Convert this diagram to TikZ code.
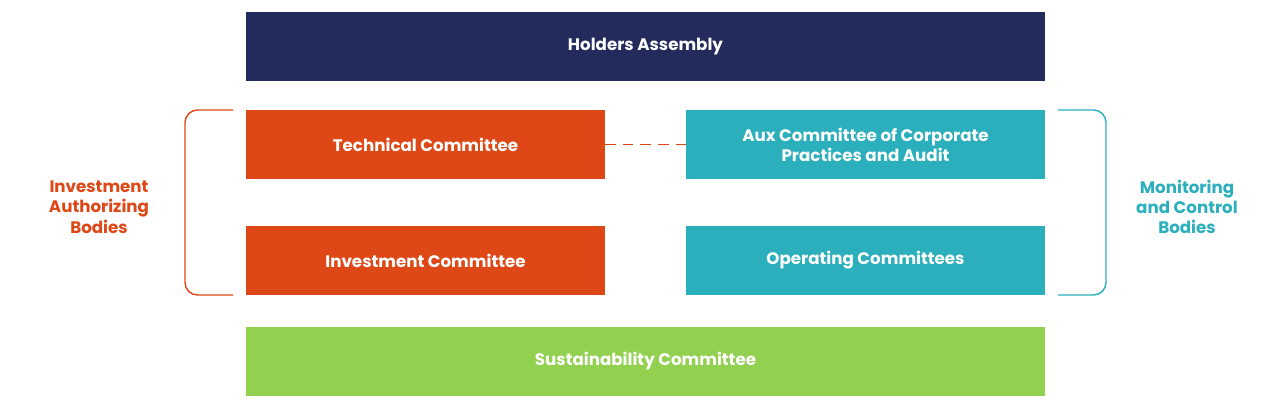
\documentclass[tikz,border=0pt]{standalone}
\usepackage{fontspec}
\setmainfont{Poppins}
\usetikzlibrary{positioning}
\definecolor{navy}{HTML}{232A5C}
\definecolor{rust}{HTML}{DD4816}
\definecolor{teal}{HTML}{2BAFBC}
\definecolor{leaf}{HTML}{92D050}
\begin{document}
\begin{tikzpicture}[
  x=0.02cm,y=-0.02cm,
  box/.style = {rectangle,inner sep=0pt,text=white,font=\bfseries\fontsize{9.5}{11.5}\selectfont,align=center,minimum height=1.38cm},
  half/.style = {box,minimum width=7.18cm},
  wide/.style = {box,minimum width=15.98cm},
  side/.style = {font=\bfseries\fontsize{9.5}{11.5}\selectfont,align=center}
  ]
  \useasboundingbox (0,0) rectangle (1279,407);
  \node[wide,fill=navy] (HA) at (645.5,46.5) {Holders Assembly};
  \node[half,fill=rust] (TC) at (425.5,144.5) {Technical Committee};
  \node[half,fill=teal] (AC) at (865.5,144.5) {Aux Committee of Corporate\\Practices and Audit};
  \node[half,fill=rust] (IC) at (425.5,260.5) {Investment Committee};
  \node[half,fill=teal] (OC) at (865.5,260.5) {Operating Committees};
  \node[wide,fill=leaf] (SC) at (645.5,361) {Sustainability Committee};
  \draw[rust,thick,dashed,dash pattern=on 6pt off 4pt] (TC.east) -- (AC.west);
  % brackets
  \draw[rust,thick,rounded corners=0.25cm] (233,110) -- (185,110) -- (185,295) -- (233,295);
  \draw[teal,thick,rounded corners=0.25cm] (1058,110) -- (1106,110) -- (1106,295) -- (1058,295);
  \node[side,text=rust] (IA) at (99,207) {Investment\\Authorizing\\Bodies};
  \node[side,text=teal] (MC) at (1187,207) {Monitoring\\and Control\\Bodies};
\end{tikzpicture}
\end{document}
